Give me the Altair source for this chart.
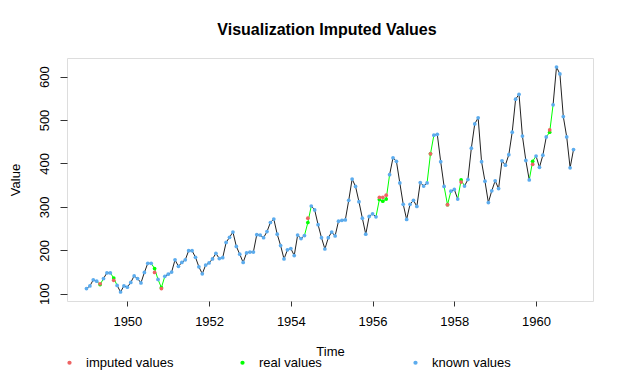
import altair as alt
import pandas as pd

# ---- data (AirPassengers, monthly 1949-1960) ----
start_year = 1949
passengers = [
    112, 118, 132, 129, 121, 135, 148, 148, 136, 119, 104, 118,
    115, 126, 141, 135, 125, 149, 170, 170, 158, 133, 114, 140,
    145, 150, 178, 163, 172, 178, 199, 199, 184, 162, 146, 166,
    171, 180, 193, 181, 183, 218, 230, 242, 209, 191, 172, 194,
    196, 196, 236, 235, 229, 243, 264, 272, 237, 211, 180, 201,
    204, 188, 235, 227, 234, 264, 302, 293, 259, 229, 203, 229,
    242, 233, 267, 269, 270, 315, 364, 347, 312, 274, 237, 278,
    284, 277, 317, 313, 318, 374, 413, 405, 355, 306, 271, 306,
    315, 301, 356, 348, 355, 422, 465, 467, 404, 347, 305, 336,
    340, 318, 362, 348, 363, 435, 491, 505, 404, 359, 310, 337,
    360, 342, 406, 396, 420, 472, 548, 559, 463, 407, 362, 405,
    417, 391, 419, 461, 472, 535, 622, 606, 508, 461, 390, 432,
]
imputed_index = [4, 8, 20, 22, 65, 86, 87, 88, 101, 106, 110, 131, 136]
imputed_values = [123, 131, 149, 112, 274, 322, 322, 327, 422, 305, 357, 398, 477]

legend_labels = ["imputed values", "real values", "known values"]
legend_colors = ["#EE6363", "#00FF00", "#5CACEE"]
x_ticks = [1950, 1952, 1954, 1956, 1958, 1960]
y_ticks = [100, 200, 300, 400, 500, 600]

# ---- tables ----
n = len(passengers)
times = [start_year + i / 12 for i in range(n)]
missing = set(imputed_index)

# runs of known values (black line)
seg_ids = []
seg = 0
prev_known = False
for i in range(n):
    known = i not in missing
    if known and not prev_known:
        seg += 1
    seg_ids.append(seg if known else -1)
    prev_known = known
known_df = pd.DataFrame({"t": times, "v": passengers, "seg": seg_ids})
known_df = known_df[known_df["seg"] >= 0]

# runs around missing values (green line of the true values)
green_rows = []
gseg = 0
i = 0
while i < n:
    if i in missing:
        gseg += 1
        j = i
        while j < n and j in missing:
            j += 1
        for k in range(max(i - 1, 0), min(j, n - 1) + 1):
            green_rows.append({"t": times[k], "v": passengers[k], "g": gseg})
        i = j
    else:
        i += 1
green_df = pd.DataFrame(green_rows)

pts = []
for i, (t, v) in enumerate(zip(times, passengers)):
    if i not in missing:
        pts.append({"t": t, "v": v, "kind": legend_labels[2]})
for i in imputed_index:
    pts.append({"t": times[i], "v": passengers[i], "kind": legend_labels[1]})
for i, v in zip(imputed_index, imputed_values):
    pts.append({"t": times[i], "v": v, "kind": legend_labels[0]})
pts_df = pd.DataFrame(pts)

FONT = "Liberation Sans"
span = times[-1] - times[0]
xdom = [times[0] - 0.04 * span, times[-1] + 0.04 * span]
yr = max(passengers) - min(passengers)
ydom = [min(passengers) - 0.04 * yr, max(passengers) + 0.04 * yr]

x_enc = alt.X(
    "t:Q",
    scale=alt.Scale(domain=xdom, nice=False, zero=False),
    axis=alt.Axis(
        values=x_ticks, format="d", title="Time", domain=False, grid=False,
        tickSize=5, tickColor="#333", labelPadding=19, labelBaseline="alphabetic",
        labelFontSize=13, labelFont=FONT, labelColor="black",
        titleFontSize=13, titleFont=FONT, titleFontWeight="normal", titleColor="black",
        titleBaseline="alphabetic", titleY=54,
    ),
)
y_enc = alt.Y(
    "v:Q",
    scale=alt.Scale(domain=ydom, nice=False, zero=False),
    axis=alt.Axis(
        values=y_ticks, title="Value", domain=False, grid=False,
        tickSize=7, tickColor="#333", labelAngle=270, labelAlign="center",
        labelBaseline="alphabetic", labelPadding=12,
        labelFontSize=13, labelFont=FONT, labelColor="black",
        titleFontSize=13, titleFont=FONT, titleFontWeight="normal", titleColor="black",
        titleAngle=270, titleAlign="center", titleBaseline="alphabetic",
        titleX=-48, titleY=121.5,
    ),
)

green_line = alt.Chart(green_df).mark_line(color="#00FF00", strokeWidth=1).encode(
    x=x_enc, y=y_enc, detail="g:N"
)
black_line = alt.Chart(known_df).mark_line(color="#222222", strokeWidth=1).encode(
    x="t:Q", y="v:Q", detail="seg:N"
)
points = alt.Chart(pts_df).mark_point(filled=True, size=14, opacity=1).encode(
    x="t:Q",
    y="v:Q",
    color=alt.Color(
        "kind:N",
        scale=alt.Scale(domain=legend_labels, range=legend_colors),
        legend=alt.Legend(
            title=None, orient="none", legendX=-4, legendY=298,
            direction="horizontal", columns=3, gridAlign="all", columnPadding=62,
            symbolType="circle", symbolSize=18, symbolStrokeWidth=0,
            labelFontSize=13, labelFont=FONT, labelColor="black", labelOffset=10,
            padding=0,
        ),
    ),
)

chart = (
    alt.layer(green_line, black_line, points)
    .properties(
        width=526,
        height=243,
        autosize=alt.AutoSizeParams(type="none"),
        padding={"left": 59, "top": 50, "right": 23, "bottom": 80},
        title=alt.Title(
            "Visualization Imputed Values", fontSize=16, fontWeight="bold",
            font=FONT, anchor="middle", frame="group", offset=7, dx=-3,
            baseline="alphabetic", color="black",
        ),
    )
    .configure_view(stroke="#333", strokeWidth=1)
    .configure(background="white")
)

chart.save("out.html", embed_options={"renderer": "svg", "actions": False})
